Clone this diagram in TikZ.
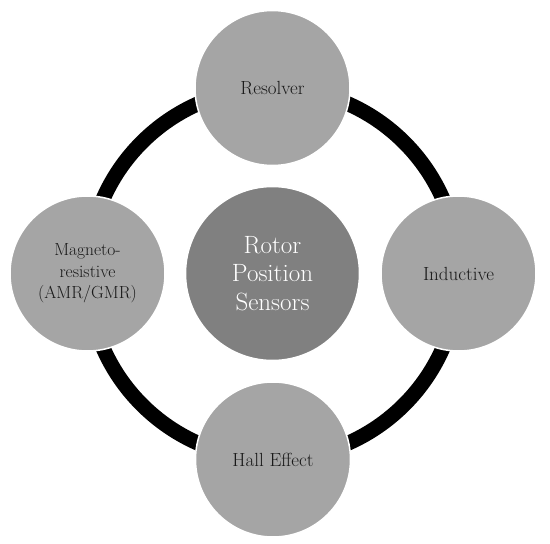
\documentclass[tikz,border=0pt]{standalone}
\begin{document}
\begin{tikzpicture}[x=1pt,y=-1pt,
  sat/.style={circle,fill=satgray,draw=white,line width=1.5pt,minimum size=155pt,inner sep=0pt,align=center,
    font=\fontsize{19}{22}\selectfont,text=black!90},
  hub/.style={circle,fill=hubgray,draw=white,line width=1.5pt,minimum size=174pt,inner sep=0pt,align=center,
    font=\fontsize{25}{28.5}\selectfont,text=white},
  ringline/.style={line width=15pt,draw=black}]
\definecolor{satgray}{HTML}{A5A5A5}
\definecolor{hubgray}{HTML}{808080}
\useasboundingbox (0,0) rectangle (550,544);
\coordinate (c) at (273,273.5);
\draw[ringline] (c) circle[radius=185.5];
\node[hub] (hub) at (272.5,273.5) {Rotor\\Position\\Sensors};
\node[sat] (res) at (272.5,88) {Resolver};
\node[sat] (ind) at (458.5,273.5) {Inductive};
\node[sat] (hall) at (273,459.5) {Hall Effect};
\node[sat,font=\fontsize{17.5}{21.7}\selectfont] (mag) at (87.5,273.5) {Magneto-\\resistive\\(AMR/GMR)};
\end{tikzpicture}
\end{document}
